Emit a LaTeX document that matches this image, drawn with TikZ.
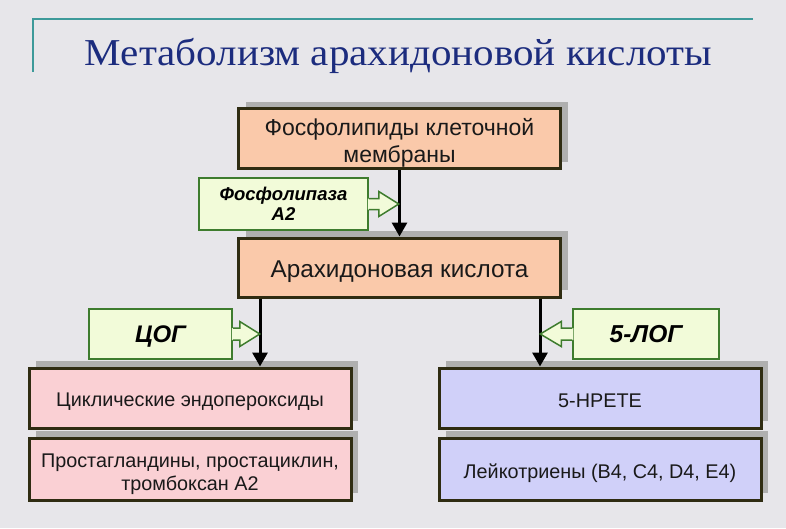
\documentclass[tikz,border=0pt]{standalone}
\usepackage{graphicx}
\usepackage{fontspec}
\setmainfont{Liberation Sans}
\newfontfamily\titlefont{Liberation Serif}
\usetikzlibrary{shadows,arrows.meta,calc}
\definecolor{bg}{HTML}{E7E6EA}
\definecolor{teal}{HTML}{3E9A9A}
\definecolor{titleblue}{HTML}{1C2C7E}
\definecolor{peach}{HTML}{FAC9AA}
\definecolor{pinkf}{HTML}{FAD0D4}
\definecolor{lav}{HTML}{D0D0F9}
\definecolor{boxline}{HTML}{2F2C12}
\definecolor{gfill}{HTML}{F2FBD9}
\definecolor{gline}{HTML}{3E7C2E}
\definecolor{shadowgray}{HTML}{AFAFAF}
\tikzset{
  mainbox/.style={draw=boxline, line width=3pt, minimum width=322pt, minimum height=60pt,
    general shadow={shadow xshift=7pt, shadow yshift=7pt, fill=shadowgray}},
  boxtext/.style={align=center, text=black!90, inner sep=0pt, font=\fontsize{19.8}{23.5}\selectfont},
  enzbox/.style={draw=gline, fill=gfill, line width=1.5pt, align=center,
    font=\bfseries\itshape},
  flow/.style={line width=3pt, -{Triangle[width=15pt,length=14pt]}},
  hollowfill/.style={fill=gfill},
  hollowline/.style={draw=gline, line width=1.5pt, line join=miter},
}
\begin{document}
\begin{tikzpicture}[x=1pt,y=-1pt]
\fill[bg] (0,0) rectangle (786,528);
\useasboundingbox (0,0) rectangle (786,528);
% title frame
\draw[teal, line width=1.5pt] (33,72) -- (33,19) -- (753,19);
\node[font=\titlefont\fontsize{38}{40}\selectfont, text=titleblue, anchor=base] (title) at (398.5,65) {\scalebox{1.08}[1]{Метаболизм арахидоновой кислоты}};
% boxes
\node[mainbox, fill=peach] (phos) at (399.5,138.5) {};
\node[mainbox, fill=peach, minimum height=59pt] (arach) at (399.5,267.5) {};
\node[mainbox, fill=pinkf] (cyc) at (190,398) {};
\node[mainbox, fill=pinkf, minimum height=62pt] (prost) at (190,469) {};
\node[mainbox, fill=lav] (hpete) at (600,398) {};
\node[mainbox, fill=lav, minimum height=62pt] (leuk) at (600,469) {};
% box texts
\node[boxtext, font=\fontsize{23}{27}\selectfont] (phos-t) at ([yshift=-4pt]phos.center) {Фосфолипиды клеточной\\мембраны};
\node[boxtext, font=\fontsize{24.3}{26}\selectfont] (arach-t) at ([yshift=-4pt]arach.center) {Арахидоновая кислота};
\node[boxtext] (cyc-t) at ([yshift=-4pt]cyc.center) {Циклические эндопероксиды};
\node[boxtext] (prost-t) at ([yshift=-5pt]prost.center) {Простагландины, простациклин,\\тромбоксан А2};
\node[boxtext] (hpete-t) at ([yshift=-3pt]hpete.center) {5-НРЕТЕ};
\node[boxtext] (leuk-t) at ([yshift=-4pt]leuk.center) {Лейкотриены (B4, C4, D4, E4)};
% enzyme boxes
\node[enzbox, minimum width=169pt, minimum height=52pt, font=\bfseries\itshape\fontsize{18.5}{20}\selectfont] (pla) at (283.5,204) {Фосфолипаза\\А2};
\node[enzbox, minimum width=143pt, minimum height=50pt, text height=22pt, text depth=5pt, font=\bfseries\itshape\fontsize{24}{28}\selectfont] (cog) at (160.5,334) {ЦОГ};
\node[enzbox, minimum width=146pt, minimum height=50pt, font=\bfseries\itshape\fontsize{24.5}{28}\selectfont] (log) at (646,334) {5-ЛОГ};
% connector x positions
\coordinate (cx) at (260,0);
\coordinate (lx) at (540,0);
% flows
\draw[flow] (phos.south) -- (arach.north);
\draw[flow] (arach.south -| cx) -- (cyc.north -| cx);
\draw[flow] (arach.south -| lx) -- (hpete.north -| lx);
% hollow arrows
\fill[hollowfill] ($(pla.east)+(-1,-5.5)$) -- ++(11,0) -- ++(0,-7) -- ($(pla.east)+(30,0)$) -- ($(pla.east)+(10,12.5)$) -- ++(0,-7) -- ($(pla.east)+(-1,5.5)$) -- cycle;
\draw[hollowline] ($(pla.east)+(0,-5.5)$) -- ++(10,0) -- ++(0,-7) -- ($(pla.east)+(30,0)$) -- ($(pla.east)+(10,12.5)$) -- ++(0,-7) -- ($(pla.east)+(0,5.5)$);
\fill[hollowfill] ($(cog.east)+(-1,-6)$) -- ++(8,0) -- ++(0,-6.5) -- ($(cog.east)+(27,0)$) -- ($(cog.east)+(7,12.5)$) -- ++(0,-6.5) -- ($(cog.east)+(-1,6)$) -- cycle;
\draw[hollowline] ($(cog.east)+(0,-6)$) -- ++(7,0) -- ++(0,-6.5) -- ($(cog.east)+(27,0)$) -- ($(cog.east)+(7,12.5)$) -- ++(0,-6.5) -- ($(cog.east)+(0,6)$);
\fill[hollowfill] ($(log.west)+(1,-6)$) -- ++(-12,0) -- ++(0,-6.5) -- ($(log.west)+(-32,0)$) -- ($(log.west)+(-11,12.5)$) -- ++(0,-6.5) -- ($(log.west)+(1,6)$) -- cycle;
\draw[hollowline] ($(log.west)+(0,-6)$) -- ++(-11,0) -- ++(0,-6.5) -- ($(log.west)+(-32,0)$) -- ($(log.west)+(-11,12.5)$) -- ++(0,-6.5) -- ($(log.west)+(0,6)$);
\end{tikzpicture}
\end{document}
